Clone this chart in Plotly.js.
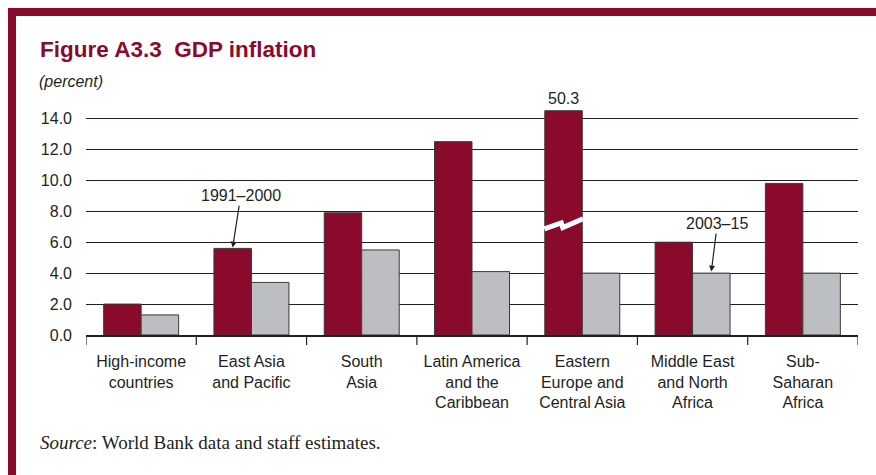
<!DOCTYPE html>
<html>
<head>
<meta charset="utf-8">
<script src="https://cdn.plot.ly/plotly-3.0.1.min.js"></script>
<style>
  html, body { margin: 0; padding: 0; background: #fff; }
  #wrap { position: relative; width: 876px; height: 475px; overflow: hidden; }
  #chart { position: absolute; left: 0; top: 0; width: 876px; height: 475px; }
  #frame { position: absolute; left: 8px; top: 8px; right: -20px; bottom: -20px;
           border-left: 8px solid #8a0a2c; border-top: 8px solid #8a0a2c; pointer-events: none; }
</style>
</head>
<body>
<div id="wrap">
  <div id="chart"></div>
  <div id="frame"></div>
</div>
<script>
// ---- data ----
const categories = [
  "High-income<br>countries",
  "East Asia<br>and Pacific",
  "South<br>Asia",
  "Latin America<br>and the<br>Caribbean",
  "Eastern<br>Europe and<br>Central Asia",
  "Middle East<br>and North<br>Africa",
  "Sub-<br>Saharan<br>Africa"
];
const series1Name = "1991–2000";
const series2Name = "2003–15";
const inflation1991_2000 = [2.0, 5.6, 7.9, 12.5, 50.3, 6.0, 9.8];
const inflation2003_15   = [1.3, 3.4, 5.5, 4.1, 4.0, 4.0, 4.0];
const axisBreakCap = 14.5;          // bars above this are drawn broken at the cap
const yTickValues = [0, 2, 4, 6, 8, 10, 12, 14];

// ---- styling ----
const RED = "#8a0a2c";
const GRAY = "#bcbec1";
const INK = "#231f20";
const SANS = "Liberation Sans, Arial, Helvetica, sans-serif";
const NARROW = "Liberation Sans Narrow, Arial Narrow, Liberation Sans, sans-serif";
const SERIF = "Liberation Serif, Times New Roman, serif";

const plotL = 86, plotR = 858;
const W = 876, H = 475;
const px = x => (x - plotL) / (plotR - plotL);

const bargap = 0.32;
const half = (1 - bargap) / 4;   // offset of each bar centre from category centre

const shown1 = inflation1991_2000.map(v => Math.min(v, axisBreakCap));
const idx = categories.map((c, i) => i);

const traces = [
  { type: "bar", name: series1Name, x: idx, y: shown1,
    marker: { color: RED, line: { color: "#3a3a3a", width: 1 } }, hoverinfo: "skip" },
  { type: "bar", name: series2Name, x: idx, y: inflation2003_15,
    marker: { color: GRAY, line: { color: "#3a3a3a", width: 1 } }, hoverinfo: "skip" }
];

// broken bar index
const brk = inflation1991_2000.findIndex(v => v > axisBreakCap);
const bx0 = brk - 2 * half, bx1 = brk;
const shapes = [];
if (brk >= 0) {
  const w = bx1 - bx0;
  shapes.push({
    type: "path", xref: "x", yref: "y", layer: "above",
    path: `M ${bx0 - 0.01*w},6.86 L ${bx0 + 0.44*w},7.25 L ${bx0 + 0.48*w},6.95 L ${bx1 + 0.02*w},7.52`,
    line: { color: "#ffffff", width: 5 }
  });
}

const annotations = [
  { xref: "paper", yref: "paper", x: px(38), y: 1 + (102.5 - 49) / 232.5, xanchor: "left", yanchor: "middle",
    text: "<b>Figure A3.3  GDP inflation</b>", showarrow: false,
    font: { family: SANS, size: 22.5, color: RED } },
  { xref: "paper", yref: "paper", x: px(37), y: 1 + (102.5 - 81) / 232.5, xanchor: "left", yanchor: "middle",
    text: "<i>(percent)</i>", showarrow: false,
    font: { family: SANS, size: 16, color: INK } },
  { xref: "paper", yref: "paper", x: px(38), y: -(443 - 335) / 232.5, xanchor: "left", yanchor: "middle",
    text: "<i>Source</i>: World Bank data and staff estimates.", showarrow: false,
    font: { family: SERIF, size: 19, color: INK } },
  { x: brk - half, y: axisBreakCap, xref: "x", yref: "y", text: String(inflation1991_2000[brk]),
    showarrow: false, yanchor: "bottom", yshift: 2,
    font: { family: SANS, size: 16, color: INK } },
  { x: 1 - half, y: inflation1991_2000[1] + 0.05, xref: "x", yref: "y", text: series1Name,
    showarrow: true, arrowhead: 2, arrowsize: 1, arrowwidth: 1.2, arrowcolor: INK,
    ax: 8, ay: -52, font: { family: SANS, size: 16, color: INK } },
  { x: 5 + half, y: inflation2003_15[5] + 0.1, xref: "x", yref: "y", text: series2Name,
    showarrow: true, arrowhead: 2, arrowsize: 1, arrowwidth: 1.2, arrowcolor: INK,
    ax: 6, ay: -48, font: { family: SANS, size: 16, color: INK } }
];

const layout = {
  width: W, height: H,
  margin: { l: plotL, r: W - plotR, t: 102.5, b: 140, pad: 0 },
  paper_bgcolor: "#ffffff", plot_bgcolor: "#ffffff",
  barmode: "group", bargap: bargap, bargroupgap: 0,
  showlegend: false,
  xaxis: {
    type: "linear", range: [-0.5, categories.length - 0.5],
    tickmode: "array", tickvals: idx, ticktext: categories,
    showgrid: false, zeroline: false,
    showline: true, linecolor: INK, linewidth: 1.5,
    ticks: "",
    tickfont: { family: NARROW, size: 16, color: INK },
    ticklabelstandoff: 11,
    fixedrange: true
  },
  yaxis: {
    range: [0, 15], tickmode: "array", tickvals: yTickValues,
    ticktext: yTickValues.map(v => v.toFixed(1)),
    showgrid: true, gridcolor: INK, gridwidth: 1,
    zeroline: false, showline: false, ticks: "",
    ticklabelstandoff: 13,
    tickfont: { family: SANS, size: 16, color: INK },
    fixedrange: true
  },
  shapes: shapes.concat(
    // boundary tick marks below the axis, at the category boundaries
    Array.from({ length: categories.length + 1 }, (_, i) => ({
      type: "line", xref: "x", yref: "paper",
      x0: i - 0.5, x1: i - 0.5, y0: 0, y1: -10 / 232.5,
      line: { color: INK, width: 1.2 }
    }))
  ),
  annotations: annotations
};

Plotly.newPlot("chart", traces, layout, { staticPlot: true, displayModeBar: false });
</script>
</body>
</html>
